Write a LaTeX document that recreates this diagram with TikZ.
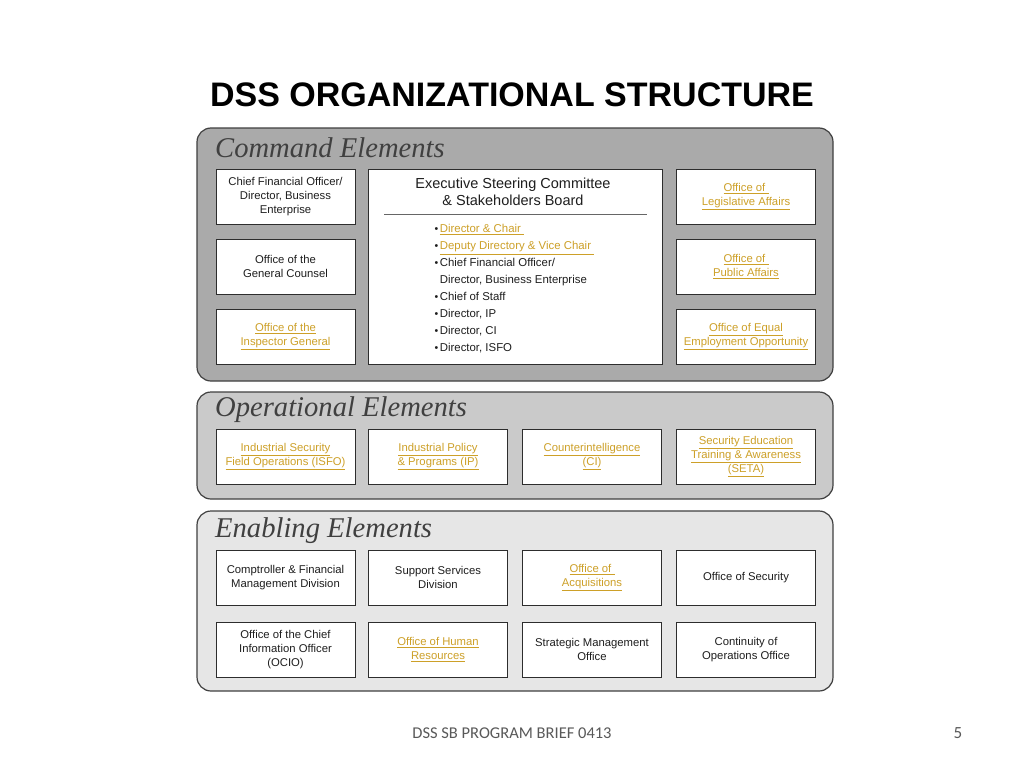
\documentclass[tikz,border=0pt]{standalone}
\usepackage{fontspec}
\setmainfont{Liberation Sans}
\newfontfamily\headfont{Liberation Serif}
\newfontfamily\footfont{Carlito}
\usepackage{xcolor}
\definecolor{gold}{RGB}{205,160,40}
\definecolor{panelA}{RGB}{170,170,170}
\definecolor{panelB}{RGB}{202,202,202}
\definecolor{panelC}{RGB}{230,230,230}
\definecolor{boxline}{RGB}{45,45,45}
\definecolor{txt}{RGB}{30,30,30}
\newcommand{\lnk}[1]{\textcolor{gold}{\underline{#1}}}
\newcommand{\bul}{\raisebox{0.8pt}{\fontsize{10.5}{10}\selectfont\textbullet}\hspace{1.5pt}}
\begin{document}
\begin{tikzpicture}[x=1pt,y=-1pt,
  panel/.style={draw=black!75, line width=1.2pt, rounded corners=14pt},
  box/.style={draw=boxline, fill=white, line width=0.9pt, inner sep=0pt, align=center,
    font=\fontsize{11.3}{14}\selectfont, text=txt},
  colbox/.style={box, minimum width=139pt, minimum height=55pt},
  head/.style={anchor=west, inner sep=0pt, font=\headfont\itshape\fontsize{28.6}{30}\selectfont, text=black!75}]
\useasboundingbox[fill=white] (0,0) rectangle (1024,768);

\node[inner sep=0pt, font=\bfseries\fontsize{34}{36}\selectfont] (title) at (512,95) {DSS ORGANIZATIONAL STRUCTURE};

% panels
\node[panel, fill=panelA, minimum width=636pt, minimum height=253pt] (cmdp) at (515,254.5) {};
\node[panel, fill=panelB, minimum width=636pt, minimum height=107pt] (opp) at (515,445.5) {};
\node[panel, fill=panelC, minimum width=636pt, minimum height=180pt] (enp) at (515,601) {};

\node[head] (cmdh) at (215,148) {Command Elements};
\node[head] (oph) at (215,410) {Operational Elements};
\node[head] (enh) at (215,531) {Enabling Elements};

% command elements
\node[colbox] (cfo) at (285.5,196.5) {Chief Financial Officer/\\ Director, Business\\ Enterprise};
\node[colbox] (ogc) at (285.5,266.5) {Office of the\\ General Counsel};
\node[colbox] (oig) at (285.5,337) {\lnk{Office of the}\\ \lnk{Inspector General}};

\node[colbox] (ola) at (746,196.5) {\lnk{Office of }\\ \lnk{Legislative Affairs}};
\node[colbox] (opa) at (746,266.5) {\lnk{Office of }\\ \lnk{Public Affairs}};
\node[colbox] (eeo) at (746,337) {\lnk{Office of Equal}\\ \lnk{Employment Opportunity}};

\node[box, minimum width=294pt, minimum height=195pt] (esc) at (515,266.5) {};
\node[inner sep=0pt, align=center, font=\fontsize{14.5}{17}\selectfont, text=txt] (esct) at (513,191.5) {Executive Steering Committee\\ \& Stakeholders Board};
\coordinate (rl) at (384,214);
\coordinate (rr) at (647,214);
\draw[black!60, line width=1pt] (rl) -- (rr);
\node[anchor=north west, inner sep=0pt, align=left, font=\fontsize{11.4}{17}\selectfont, text=txt] (escl) at (434.5,224.5) {%
\bul\lnk{Director \& Chair }\\
\bul\lnk{Deputy Directory \& Vice Chair }\\
\bul Chief Financial Officer/\\
\phantom{\bul}Director, Business Enterprise\\
\bul Chief of Staff\\
\bul Director, IP\\
\bul Director, CI\\
\bul Director, ISFO};

% operational elements
\node[colbox] (isfo) at (285.5,456.5) {\lnk{Industrial Security}\\ \lnk{Field Operations (ISFO)}};
\node[colbox] (ip) at (438,456.5) {\lnk{Industrial Policy}\\ \lnk{\& Programs (IP)}};
\node[colbox] (ci) at (592,456.5) {\lnk{Counterintelligence}\\ \lnk{(CI)}};
\node[colbox] (seta) at (746,456.5) {\lnk{Security Education}\\ \lnk{Training \& Awareness}\\ \lnk{(SETA)}};

% enabling elements
\node[colbox] (cfm) at (285.5,577.5) {Comptroller \& Financial\\ Management Division};
\node[colbox] (ssd) at (438,577.5) {Support Services\\ Division};
\node[colbox] (acq) at (592,577.5) {\lnk{Office of }\\ \lnk{Acquisitions}};
\node[colbox] (sec) at (746,577.5) {Office of Security};
\node[colbox] (ocio) at (285.5,649.5) {Office of the Chief\\ Information Officer\\ (OCIO)};
\node[colbox] (hr) at (438,649.5) {\lnk{Office of Human}\\ \lnk{Resources}};
\node[colbox] (smo) at (592,649.5) {Strategic Management\\ Office};
\node[colbox] (coop) at (746,649.5) {Continuity of\\ Operations Office};

% footer
\node[inner sep=0pt, font=\footfont\fontsize{16.5}{18}\selectfont, text=black!65] (foot) at (512,733) {DSS SB PROGRAM BRIEF 0413};
\node[inner sep=0pt, font=\footfont\fontsize{17}{18}\selectfont, text=black!65] (pg) at (958,733) {5};
\end{tikzpicture}
\end{document}
